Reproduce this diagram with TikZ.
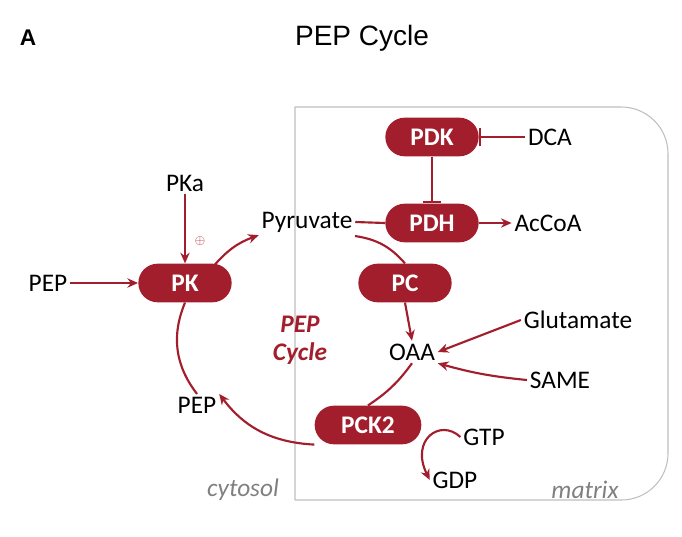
\documentclass[tikz,border=0pt]{standalone}
\usepackage{fontspec}
\setmainfont{Carlito}
\newfontfamily\arial{Liberation Sans}
\usetikzlibrary{arrows.meta}
\definecolor{dred}{RGB}{163,30,44}
\begin{document}
\begin{tikzpicture}[x=0.75pt,y=-0.75pt,
 enz/.style={fill=dred,text=white,font=\fontsize{19}{19}\selectfont\bfseries,minimum width=#1,minimum height=29,rounded corners=14.5,inner sep=0},
 enz/.default=70,
 met/.style={font=\fontsize{19}{19}\selectfont,inner sep=2},
 ar/.style={dred,line width=1.6,-{Stealth[length=8pt,width=7pt]}},
 ln/.style={dred,line width=1.6},
 inh/.style={dred,line width=1.6,-{Bar[width=14pt]}},
 lab/.style={font=\fontsize{19}{19}\selectfont\itshape,text=gray}]
\useasboundingbox (0,0) rectangle (682,536);
\draw[gray!50,line width=0.8] (295,500) -- (295,107) [rounded corners=35] -- (668,107) -- (668,500) -- (295,500);
\node[font=\arial\fontsize{17}{17}\selectfont\bfseries] (A) at (28,38) {A};
\node[font=\arial\fontsize{21}{21}\selectfont] (T) at (362,38) {PEP Cycle};
\node[enz] (PDK) at (432,137) {PDK};
\node[met] (DCA) at (550,137) {DCA};
\node[enz] (PDH) at (432,223) {PDH};
\node[met] (AcCoA) at (548,223) {AcCoA};
\node[met] (Pyr) at (307,222) {Pyruvate};
\node[met] (PKa) at (185,183) {PKa};
\node[enz] (PK) at (185,283) {PK};
\node[met] (PEP1) at (48,283) {PEP};
\node[enz] (PC) at (405,283) {PC};
\node[font=\fontsize{19}{21}\selectfont\bfseries\itshape,text=dred,align=center] (cyc) at (300,340) {PEP\\Cycle};
\node[met] (OAA) at (412,352) {OAA};
\node[met] (Glu) at (578,320) {Glutamate};
\node[met] (SAME) at (560,380) {SAME};
\node[met] (PEP2) at (197,405) {PEP};
\node[enz=80] (PCK2) at (368,425) {PCK2};
\node[met] (GTP) at (484,437) {GTP};
\node[met] (GDP) at (455,480) {GDP};
\node[lab] (cyt) at (243,490) {cytosol};
\node[lab] (mat) at (585,490) {matrix};
\node[text=dred,font=\fontsize{10}{10}\selectfont,inner sep=0] (plus) at (200,241) {$\oplus$};
\draw[inh] (DCA.west) -- (PDK.east);
\draw[inh] (PDK.south) -- (PDH.north);
\draw[ln] (Pyr.east) -- (PDH.west);
\draw[ar] (PDH.east) -- (AcCoA.west);
\draw[ar] (PEP1.east) -- (PK.west);
\draw[ar] (PKa.south) -- (PK.north);
\draw[ar] (212,268) to[bend left=15] (Pyr.south west);
\draw[ln] (355,236) to[bend left=20] (PC.north);
\draw[ar] (PC.south) -- (OAA.north);
\draw[ln] (OAA.south) to[bend left=10] (PCK2.north);
\draw[ar] (PCK2.south west) to[bend left=25] (PEP2.north east);
\draw[ln] (PEP2.north) to[bend left=30] (PK.south);
\draw[ar] (Glu.west) -- (OAA.east);
\draw[ar] (SAME.west) to[bend left=5] (OAA.south east);
\draw[ar] (GTP.west) .. controls (440,418) and (410,440) .. (GDP.west);
\end{tikzpicture}
\end{document}
